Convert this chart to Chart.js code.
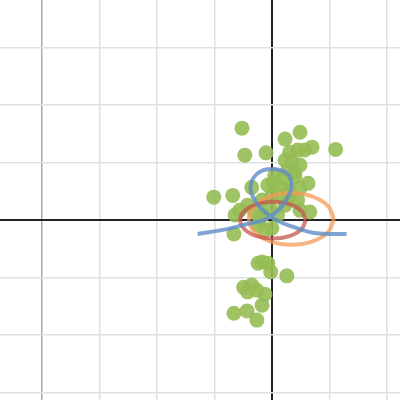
<!DOCTYPE html>
<html lang="en">
<head>
<meta charset="UTF-8" />
<script src="https://cdn.jsdelivr.net/npm/chart.js"></script>
<style>
  html, body { margin: 0; padding: 0; background: #fff; }
  #wrap { width: 400px; height: 400px; }
</style>
</head>
<body>
<div id="wrap"><canvas id="graph"></canvas></div>
<script>
  const pointsX = [-0.52, 0.49, 0.23, -0.47, -0.10, 0.31, 0.45, 0.57, 0.70, 1.11, 0.35, 0.28, 0.49, 0.19, 0.40, 0.63,
    0.03, -0.07, -0.35, -1.01, -0.68, -0.42, -0.17, 0.14, 0.31, 0.45, 0.66, 0.49, -0.56, -0.64, -0.30, -0.16, -0.03,
    0.10, -0.24, -0.12, 0, -0.66, 0.31, 0.23, 0.49, -0.24, -0.17, -0.07, -0.02, 0.26, -0.49, -0.35, -0.26, -0.12,
    -0.42, -0.17, -0.43, -0.66, -0.26, 0.05, 0.23, 0.40, -0.21, 0, 0.17];
  const pointsY = [1.60, 1.53, 1.41, 1.13, 1.17, 1.18, 1.22, 1.22, 1.27, 1.23, 1.01, 0.87, 0.96, 0.73, 0.75, 0.64,
    0.66, 0.61, 0.57, 0.40, 0.43, 0.26, 0.35, 0.43, 0.38, 0.35, 0.14, 0.17, 0.17, 0.09, 0.14, 0.09, 0.21,
    0.09, -0.09, -0.17, -0.14, -0.24, 0.52, 0.26, 0.56, -0.75, -0.73, -0.75, -0.90, -0.97, -1.17, -1.13, -1.22, -1.29,
    -1.25, -1.48, -1.58, -1.62, -1.74, 0.78, 1.04, 0.83, 0.03, 0.43, 0.56];

  const loopX = [-1.29, -0.85, -0.40, -0.10, 0.12, 0.28, 0.34, 0.28, 0.02, -0.24, -0.37, -0.30, -0.12, 0.10, 0.35, 0.78, 1.30];
  const loopY = [-0.24, -0.17, -0.06, 0.02, 0.18, 0.40, 0.60, 0.80, 0.89, 0.82, 0.59, 0.35, 0.14, -0.01, -0.11, -0.23, -0.24];

  const redX = [0.59, 0.514, 0.305, 0.02, -0.265, -0.474, -0.55, -0.474, -0.265, 0.02, 0.305, 0.514, 0.59];
  const redY = [0, 0.16, 0.277, 0.32, 0.277, 0.16, 0, -0.16, -0.277, -0.32, -0.277, -0.16, 0];

  const orangeX = [1.08, 0.981, 0.71, 0.34, -0.03, -0.301, -0.40, -0.301, -0.03, 0.34, 0.71, 0.981, 1.08];
  const orangeY = [0.02, 0.245, 0.41, 0.47, 0.41, 0.245, 0.02, -0.205, -0.37, -0.43, -0.37, -0.205, 0.02];

  const gridX = [-4, -3, -2, -1, 0, 1, 2];
  const gridY = [-3, -2, -1, 0, 1, 2, 3];

  const zip = (xs, ys) => xs.map((x, i) => ({ x: x, y: ys[i] }));

  function curve(xs, ys, color) {
    return {
      data: zip(xs, ys), showLine: true, borderColor: color, borderWidth: 4,
      pointRadius: 0, tension: 0.4, fill: false, order: 1
    };
  }

  function gridColor(ctx) {
    const v = ctx.tick.value;
    if (v === 0) return '#222';
    if (v === -4) return '#aaa';
    return '#e0e0e0';
  }

  function axis(min, max, ticks) {
    return {
      type: 'linear', min: min, max: max,
      afterBuildTicks: (a) => { a.ticks = ticks.map((v) => ({ value: v })); },
      ticks: { display: false, padding: 0 },
      border: { display: false },
      grid: { color: gridColor, lineWidth: (c) => (c.tick.value === 0 ? 2 : 1.5), drawTicks: false, tickLength: 0 }
    };
  }

  new Chart(document.getElementById('graph'), {
    type: 'scatter',
    data: {
      datasets: [
        curve(loopX, loopY, 'rgba(95,140,200,0.8)'),
        curve(redX, redY, 'rgba(195,85,75,0.75)'),
        curve(orangeX, orangeY, 'rgba(245,155,85,0.75)'),
        {
          data: zip(pointsX, pointsY), pointRadius: 7.5, pointBorderWidth: 0,
          backgroundColor: 'rgba(150,188,85,0.9)', order: 10
        }
      ]
    },
    options: {
      responsive: true, maintainAspectRatio: false, animation: false,
      layout: { padding: 0, autoPadding: false },
      plugins: { legend: { display: false }, tooltip: { enabled: false } },
      scales: { x: axis(-4.73, 2.23, gridX), y: axis(-3.13, 3.83, gridY) }
    }
  });
</script>
</body>
</html>
